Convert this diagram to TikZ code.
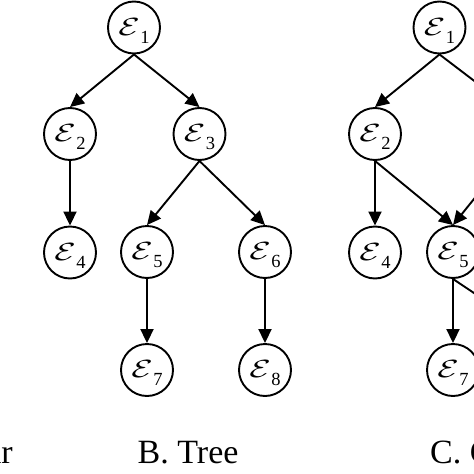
\documentclass[tikz,border=0pt]{standalone}
\usepackage{fontspec}
\setmainfont{Liberation Serif}
\usepackage{graphicx}
\usetikzlibrary{arrows.meta}
\newcommand\evlab[1]{\raisebox{-7.5pt}[10pt][10pt]{\scalebox{1.4}[1]{\fontsize{25}{25}\selectfont$\mathcal{E}$}\kern0.5pt\raisebox{-8pt}{\fontsize{18.5}{18.5}\selectfont #1}}}
\tikzset{
  ev/.style={circle,draw,line width=1.9pt,minimum size=52pt,inner sep=0pt},
  edge/.style={line width=1.9pt,-{Triangle[length=14pt,width=13pt]}},
  plain/.style={line width=1.9pt},
  captext/.style={font=\fontsize{34}{34}\selectfont,inner sep=0pt}
}
\begin{document}
\begin{tikzpicture}[x=1pt,y=-1pt]
\useasboundingbox (0,0) rectangle (474,474);
\clip (0,0) rectangle (474,474);
% B. Tree
\node[ev] (t1) at (134,27.5) {\evlab{1}};
\node[ev] (t2) at (70,134) {\evlab{2}};
\node[ev] (t3) at (199.5,134) {\evlab{3}};
\node[ev] (t4) at (70,252.5) {\evlab{4}};
\node[ev] (t5) at (147,252) {\evlab{5}};
\node[ev] (t6) at (265,252) {\evlab{6}};
\node[ev] (t7) at (147,370) {\evlab{7}};
\node[ev] (t8) at (265,370) {\evlab{8}};
\draw[edge] (t1.south) -- (t2.north);
\draw[edge] (t1.south) -- (t3.north);
\draw[edge] (t2.south) -- (t4.north);
\draw[edge] (t3.south) -- (t5.north);
\draw[edge] (t3.south) -- (t6.north);
\draw[edge] (t5.south) -- (t7.north);
\draw[edge] (t6.south) -- (t8.north);
% C. Graph
\node[ev] (c1) at (439.5,27.5) {\evlab{1}};
\node[ev] (c2) at (375,134) {\evlab{2}};
\node[ev] (c4) at (375,252.5) {\evlab{4}};
\node[ev] (c5) at (453,252) {\evlab{5}};
\node[ev] (c7) at (453,370) {\evlab{7}};
\coordinate (c3in) at (540,131);
\coordinate (c3out) at (520,141.7);
\coordinate (c8) at (553,346);
\draw[edge] (c1.south) -- (c2.north);
\draw[plain] (c1.south) -- (c3in);
\draw[edge] (c2.south) -- (c4.north);
\draw[edge] (c2.south) -- (c5.north);
\draw[edge] (c3out) -- (c5.north);
\draw[edge] (c5.south) -- (c7.north);
\draw[plain] (c5.south) -- (c8);
% captions
\node[captext,anchor=base east] (la) at (13,463) {A. Linear};
\node[captext,anchor=base west] (lb) at (137.5,463) {B. Tree};
\node[captext,anchor=base west] (lc) at (430,463) {C. Graph};
\end{tikzpicture}
\end{document}
